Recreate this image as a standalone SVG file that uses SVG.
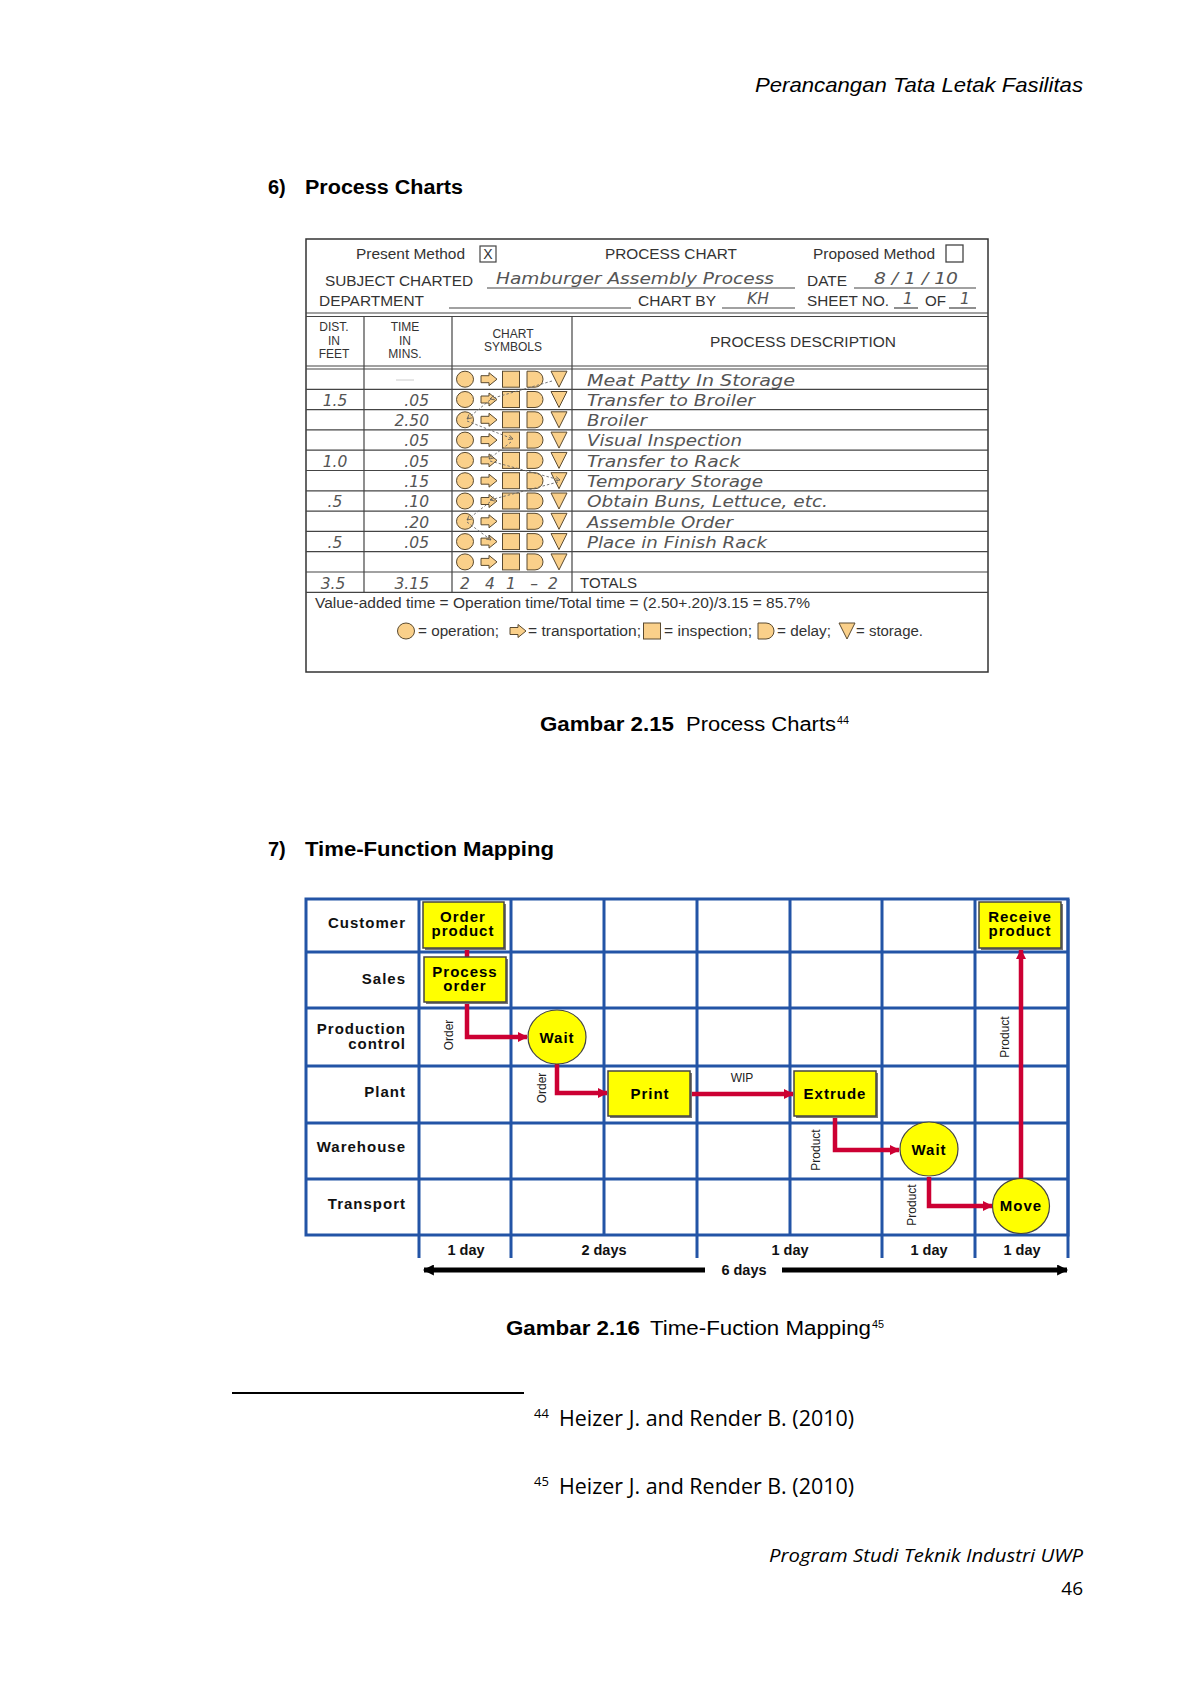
<svg xmlns="http://www.w3.org/2000/svg" xmlns:xlink="http://www.w3.org/1999/xlink" width="1200" height="1696" viewBox="0 0 1200 1696">
<defs>
<style>
.pg{font-family:"Liberation Sans",Arial,sans-serif;fill:#000}
.hd{font-family:"Liberation Sans",Arial,sans-serif;font-size:14px;fill:#333}
.hd2{font-family:"Liberation Sans",Arial,sans-serif;font-size:12px;fill:#333}
.hand{font-family:"DejaVu Sans",sans-serif;font-style:italic;font-size:15.5px;fill:#555}
.tl{stroke:#444;stroke-width:1.2;fill:none}
.sym{fill:#FAD08A;stroke:#5a4a30;stroke-width:1}
.dash{stroke:#666;stroke-width:0.9;stroke-dasharray:2.5 2;fill:none;marker-end:url(#oh)}
.grid{stroke:#2354A6;stroke-width:3;fill:none}
.lbl{font-family:"Liberation Sans",Arial,sans-serif;font-weight:bold;font-size:15px;letter-spacing:1px;fill:#111}
.nt{font-family:"Liberation Sans",Arial,sans-serif;font-weight:bold;font-size:15px;letter-spacing:1px;fill:#000;text-anchor:middle}
.box{fill:#FFFF00;stroke:#444;stroke-width:1.5}
.shd{fill:#777}
.red{stroke:#CC0033;stroke-width:4.5;fill:none}
.sm{font-family:"Liberation Sans",Arial,sans-serif;font-size:12px;fill:#222;text-anchor:middle}
.day{font-family:"Liberation Sans",Arial,sans-serif;font-weight:bold;font-size:14.5px;fill:#111;text-anchor:middle}
.cal{font-family:"Open Sans","Noto Sans",sans-serif;fill:#000}
</style>
<marker id="oh" viewBox="0 0 8 8" refX="7" refY="4" markerWidth="6" markerHeight="6" markerUnits="userSpaceOnUse" orient="auto">
<path d="M1,1 L7,4 L1,7" fill="none" stroke="#555" stroke-width="1"/>
</marker>
<marker id="ra" viewBox="0 0 10 10" refX="9" refY="5" markerWidth="11" markerHeight="10" markerUnits="userSpaceOnUse" orient="auto">
<path d="M0,0 L10,5 L0,10 Z" fill="#CC0033"/>
</marker>
<marker id="ba" viewBox="0 0 10 10" refX="9" refY="5" markerWidth="12" markerHeight="11" markerUnits="userSpaceOnUse" orient="auto">
<path d="M0,0 L10,5 L0,10 Z" fill="#000"/>
</marker>
<ellipse id="sc" class="sym" cx="0" cy="0" rx="8.5" ry="8"/>
<path id="sa" class="sym" d="M-8,-3.5 H0 V-6.5 L8,0 L0,6.5 V3.5 H-8 Z"/>
<rect id="ss" class="sym" x="-8.5" y="-8" width="17" height="16" stroke-width="1.3"/>
<path id="sd" class="sym" d="M-8,-8 H0 A8,8 0 0 1 0,8 H-8 Z"/>
<path id="st" class="sym" d="M-8,-8 H8 L0,8 Z"/>
<g id="symrow">
<use xlink:href="#sc" x="465"/>
<use xlink:href="#sa" x="489"/>
<use xlink:href="#ss" x="511"/>
<use xlink:href="#sd" x="535"/>
<use xlink:href="#st" x="559"/>
</g>
</defs>
<rect width="1200" height="1696" fill="#fff"/>

<!-- page header / titles -->
<g id="page-text">
<text class="pg" x="1083" y="92" font-size="21" font-style="italic" text-anchor="end" textLength="328" lengthAdjust="spacingAndGlyphs">Perancangan Tata Letak Fasilitas</text>
<text class="pg" x="268" y="194" font-size="20" font-weight="bold">6)</text>
<text class="pg" x="305" y="194" font-size="20" font-weight="bold" textLength="158" lengthAdjust="spacingAndGlyphs">Process Charts</text>
<text class="pg" x="540" y="731" font-size="20" font-weight="bold" textLength="134" lengthAdjust="spacingAndGlyphs">Gambar 2.15</text>
<text class="pg" x="686" y="731" font-size="20" textLength="150" lengthAdjust="spacingAndGlyphs">Process Charts</text>
<text class="pg" x="837" y="724" font-size="11" textLength="12" lengthAdjust="spacingAndGlyphs">44</text>
<text class="pg" x="268" y="856" font-size="20" font-weight="bold">7)</text>
<text class="pg" x="305" y="856" font-size="20" font-weight="bold" textLength="249" lengthAdjust="spacingAndGlyphs">Time-Function Mapping</text>
<text class="pg" x="506" y="1335" font-size="20" font-weight="bold" textLength="134" lengthAdjust="spacingAndGlyphs">Gambar 2.16</text>
<text class="pg" x="650" y="1335" font-size="20" textLength="221" lengthAdjust="spacingAndGlyphs">Time-Fuction Mapping</text>
<text class="pg" x="872" y="1328" font-size="11" textLength="12" lengthAdjust="spacingAndGlyphs">45</text>
<line x1="232" y1="1393" x2="524" y2="1393" stroke="#000" stroke-width="2"/>
<text class="cal" x="534" y="1418" font-size="13">44</text>
<text class="cal" x="559" y="1426" font-size="21" textLength="295" lengthAdjust="spacingAndGlyphs">Heizer J. and Render B. (2010)</text>
<text class="cal" x="534" y="1486" font-size="13">45</text>
<text class="cal" x="559" y="1494" font-size="21" textLength="295" lengthAdjust="spacingAndGlyphs">Heizer J. and Render B. (2010)</text>
<text class="cal" x="1083" y="1562" font-size="19" font-style="italic" text-anchor="end" textLength="314" lengthAdjust="spacingAndGlyphs">Program Studi Teknik Industri UWP</text>
<text class="cal" x="1083" y="1595" font-size="19" text-anchor="end">46</text>
</g>

<!-- PROCESS CHART -->
<g id="process-chart">
<rect x="306" y="239" width="682" height="433" fill="#fff" stroke="#333" stroke-width="1.5"/>
<text class="hd" x="356" y="259" textLength="109" lengthAdjust="spacingAndGlyphs">Present Method</text>
<rect x="480" y="246" width="16" height="16" fill="none" stroke="#444" stroke-width="1.2"/>
<text class="hd" x="488" y="259" text-anchor="middle" font-size="14">X</text>
<text class="hd" x="671" y="259" text-anchor="middle" textLength="132" lengthAdjust="spacingAndGlyphs">PROCESS CHART</text>
<text class="hd" x="813" y="259" textLength="122" lengthAdjust="spacingAndGlyphs">Proposed Method</text>
<rect x="946" y="245" width="17" height="17" fill="none" stroke="#444" stroke-width="1.3"/>
<text class="hd" x="325" y="286" textLength="148" lengthAdjust="spacingAndGlyphs">SUBJECT CHARTED</text>
<line class="tl" x1="487" y1="288" x2="795" y2="288"/>
<text class="hand" x="496" y="284" textLength="278" lengthAdjust="spacingAndGlyphs">Hamburger Assembly Process</text>
<text class="hd" x="807" y="286" textLength="40" lengthAdjust="spacingAndGlyphs">DATE</text>
<line class="tl" x1="854" y1="288" x2="976" y2="288"/>
<text class="hand" x="874" y="284" textLength="84" lengthAdjust="spacingAndGlyphs">8 / 1 / 10</text>
<text class="hd" x="319" y="306" textLength="105" lengthAdjust="spacingAndGlyphs">DEPARTMENT</text>
<line class="tl" x1="449" y1="308" x2="631" y2="308"/>
<text class="hd" x="638" y="306" textLength="78" lengthAdjust="spacingAndGlyphs">CHART BY</text>
<line class="tl" x1="722" y1="308" x2="795" y2="308"/>
<text class="hand" x="758" y="304" text-anchor="middle">KH</text>
<text class="hd" x="807" y="306" textLength="82" lengthAdjust="spacingAndGlyphs">SHEET NO.</text>
<line class="tl" x1="894" y1="308" x2="918" y2="308"/>
<text class="hand" x="908" y="304" text-anchor="middle">1</text>
<text class="hd" x="925" y="306" textLength="21" lengthAdjust="spacingAndGlyphs">OF</text>
<line class="tl" x1="949" y1="308" x2="976" y2="308"/>
<text class="hand" x="965" y="304" text-anchor="middle">1</text>
<line class="tl" x1="306" y1="313" x2="988" y2="313"/>
<line class="tl" x1="306" y1="316.5" x2="988" y2="316.5"/>
<text class="hd2" x="334" y="331" text-anchor="middle">DIST.</text>
<text class="hd2" x="334" y="345" text-anchor="middle">IN</text>
<text class="hd2" x="334" y="358" text-anchor="middle">FEET</text>
<text class="hd2" x="405" y="331" text-anchor="middle">TIME</text>
<text class="hd2" x="405" y="345" text-anchor="middle">IN</text>
<text class="hd2" x="405" y="358" text-anchor="middle">MINS.</text>
<text class="hd2" x="513" y="338" text-anchor="middle">CHART</text>
<text class="hd2" x="513" y="351" text-anchor="middle">SYMBOLS</text>
<text class="hd" x="803" y="347" text-anchor="middle" textLength="186" lengthAdjust="spacingAndGlyphs">PROCESS DESCRIPTION</text>
<line class="tl" x1="306" y1="366" x2="988" y2="366"/>
<line class="tl" x1="306" y1="369" x2="988" y2="369"/>
<line class="tl" x1="306" y1="389.3" x2="988" y2="389.3"/>
<line class="tl" x1="306" y1="409.6" x2="988" y2="409.6"/>
<line class="tl" x1="306" y1="429.9" x2="988" y2="429.9"/>
<line class="tl" x1="306" y1="450.2" x2="988" y2="450.2"/>
<line class="tl" x1="306" y1="470.5" x2="988" y2="470.5"/>
<line class="tl" x1="306" y1="490.8" x2="988" y2="490.8"/>
<line class="tl" x1="306" y1="511.1" x2="988" y2="511.1"/>
<line class="tl" x1="306" y1="531.4" x2="988" y2="531.4"/>
<line class="tl" x1="306" y1="551.7" x2="988" y2="551.7"/>
<line class="tl" x1="306" y1="572" x2="988" y2="572"/>
<line class="tl" x1="306" y1="592.3" x2="988" y2="592.3"/>
<line class="tl" x1="364" y1="316.5" x2="364" y2="592.3"/>
<line class="tl" x1="452" y1="316.5" x2="452" y2="592.3"/>
<line class="tl" x1="572" y1="316.5" x2="572" y2="592.3"/>
<!-- symbols -->
<use xlink:href="#symrow" y="379.2"/>
<use xlink:href="#symrow" y="399.5"/>
<use xlink:href="#symrow" y="419.8"/>
<use xlink:href="#symrow" y="440.1"/>
<use xlink:href="#symrow" y="460.4"/>
<use xlink:href="#symrow" y="480.7"/>
<use xlink:href="#symrow" y="501"/>
<use xlink:href="#symrow" y="521.3"/>
<use xlink:href="#symrow" y="541.6"/>
<use xlink:href="#symrow" y="561.9"/>
<!-- dashed flow -->
<path class="dash" d="M552,381 L490,399"/>
<path class="dash" d="M490,400 L467,419"/>
<path class="dash" d="M467,421 L513,439"/>
<path class="dash" d="M511,442 L489,459"/>
<path class="dash" d="M490,461 L560,480"/>
<path class="dash" d="M558,482 L490,500"/>
<path class="dash" d="M490,502 L467,520"/>
<path class="dash" d="M467,522 L491,540"/>
<!-- descriptions -->
<text class="hand" x="587" y="385.5" textLength="208" lengthAdjust="spacingAndGlyphs">Meat Patty In Storage</text>
<text class="hand" x="587" y="405.8" textLength="168" lengthAdjust="spacingAndGlyphs">Transfer to Broiler</text>
<text class="hand" x="587" y="426.1" textLength="60" lengthAdjust="spacingAndGlyphs">Broiler</text>
<text class="hand" x="587" y="446.4" textLength="155" lengthAdjust="spacingAndGlyphs">Visual Inspection</text>
<text class="hand" x="587" y="466.7" textLength="153" lengthAdjust="spacingAndGlyphs">Transfer to Rack</text>
<text class="hand" x="587" y="487" textLength="176" lengthAdjust="spacingAndGlyphs">Temporary Storage</text>
<text class="hand" x="587" y="507.3" textLength="241" lengthAdjust="spacingAndGlyphs">Obtain Buns, Lettuce, etc.</text>
<text class="hand" x="587" y="527.6" textLength="146" lengthAdjust="spacingAndGlyphs">Assemble Order</text>
<text class="hand" x="587" y="547.9" textLength="180" lengthAdjust="spacingAndGlyphs">Place in Finish Rack</text>
<!-- distances -->
<text class="hand" x="335" y="405.8" text-anchor="middle">1.5</text>
<text class="hand" x="335" y="466.7" text-anchor="middle">1.0</text>
<text class="hand" x="335" y="507.3" text-anchor="middle">.5</text>
<text class="hand" x="335" y="547.9" text-anchor="middle">.5</text>
<text class="hand" x="333" y="588.5" text-anchor="middle">3.5</text>
<!-- times -->
<line x1="396" y1="380" x2="414" y2="380" stroke="#ccc" stroke-width="1"/>
<text class="hand" x="429" y="405.8" text-anchor="end">.05</text>
<text class="hand" x="429" y="426.1" text-anchor="end">2.50</text>
<text class="hand" x="429" y="446.4" text-anchor="end">.05</text>
<text class="hand" x="429" y="466.7" text-anchor="end">.05</text>
<text class="hand" x="429" y="487" text-anchor="end">.15</text>
<text class="hand" x="429" y="507.3" text-anchor="end">.10</text>
<text class="hand" x="429" y="527.6" text-anchor="end">.20</text>
<text class="hand" x="429" y="547.9" text-anchor="end">.05</text>
<text class="hand" x="429" y="588.5" text-anchor="end">3.15</text>
<!-- totals -->
<text class="hand" x="465" y="588.5" text-anchor="middle">2</text>
<text class="hand" x="490" y="588.5" text-anchor="middle">4</text>
<text class="hand" x="511" y="588.5" text-anchor="middle">1</text>
<text class="hand" x="534" y="588.5" text-anchor="middle">–</text>
<text class="hand" x="553" y="588.5" text-anchor="middle">2</text>
<text class="hd" x="580" y="588" textLength="57" lengthAdjust="spacingAndGlyphs">TOTALS</text>
<text class="hd" x="315" y="608" textLength="495" lengthAdjust="spacingAndGlyphs">Value-added time = Operation time/Total time = (2.50+.20)/3.15 = 85.7%</text>
<!-- legend -->
<use xlink:href="#sc" x="406" y="631"/>
<text class="hd" x="418" y="636" textLength="81" lengthAdjust="spacingAndGlyphs">= operation;</text>
<use xlink:href="#sa" x="518" y="631"/>
<text class="hd" x="528" y="636" textLength="113" lengthAdjust="spacingAndGlyphs">= transportation;</text>
<use xlink:href="#ss" x="652" y="631"/>
<text class="hd" x="664" y="636" textLength="88" lengthAdjust="spacingAndGlyphs">= inspection;</text>
<use xlink:href="#sd" x="766" y="631"/>
<text class="hd" x="777" y="636" textLength="54" lengthAdjust="spacingAndGlyphs">= delay;</text>
<use xlink:href="#st" x="847" y="631"/>
<text class="hd" x="856" y="636" textLength="67" lengthAdjust="spacingAndGlyphs">= storage.</text>
</g>

<!-- TIME-FUNCTION MAPPING -->
<g id="tfm-grid">
<rect class="grid" x="306" y="899" width="762" height="336"/>
<line class="grid" x1="306" y1="952" x2="1068" y2="952"/>
<line class="grid" x1="306" y1="1008" x2="1068" y2="1008"/>
<line class="grid" x1="306" y1="1066" x2="1068" y2="1066"/>
<line class="grid" x1="306" y1="1123" x2="1068" y2="1123"/>
<line class="grid" x1="306" y1="1179" x2="1068" y2="1179"/>
<line class="grid" x1="419" y1="899" x2="419" y2="1258"/>
<line class="grid" x1="511" y1="899" x2="511" y2="1258"/>
<line class="grid" x1="604" y1="899" x2="604" y2="1235"/>
<line class="grid" x1="697" y1="899" x2="697" y2="1258"/>
<line class="grid" x1="790" y1="899" x2="790" y2="1235"/>
<line class="grid" x1="882" y1="899" x2="882" y2="1258"/>
<line class="grid" x1="975" y1="899" x2="975" y2="1258"/>
<line class="grid" x1="1068" y1="899" x2="1068" y2="1258"/>
<text class="lbl" x="406" y="928" text-anchor="end">Customer</text>
<text class="lbl" x="406" y="984" text-anchor="end">Sales</text>
<text class="lbl" x="406" y="1034" text-anchor="end">Production</text>
<text class="lbl" x="406" y="1049" text-anchor="end">control</text>
<text class="lbl" x="406" y="1097" text-anchor="end">Plant</text>
<text class="lbl" x="406" y="1152" text-anchor="end">Warehouse</text>
<text class="lbl" x="406" y="1209" text-anchor="end">Transport</text>
<text class="day" x="466" y="1255">1 day</text>
<text class="day" x="604" y="1255">2 days</text>
<text class="day" x="790" y="1255">1 day</text>
<text class="day" x="929" y="1255">1 day</text>
<text class="day" x="1022" y="1255">1 day</text>
<line x1="705" y1="1270" x2="424" y2="1270" stroke="#000" stroke-width="5" marker-end="url(#ba)"/>
<line x1="782" y1="1270" x2="1067" y2="1270" stroke="#000" stroke-width="5" marker-end="url(#ba)"/>
<text class="day" x="744" y="1275">6 days</text>
</g>

<g id="connectors">
<path class="red" d="M467,948 V957"/>
<path class="red" d="M467,1002 V1037 H527" marker-end="url(#ra)"/>
<path class="red" d="M557,1064 V1093 H607" marker-end="url(#ra)"/>
<path class="red" d="M692,1094 H793" marker-end="url(#ra)"/>
<path class="red" d="M835,1116 V1150 H899" marker-end="url(#ra)"/>
<path class="red" d="M929,1177 V1206 H992" marker-end="url(#ra)"/>
<path class="red" d="M1021,1178 V950" marker-end="url(#ra)"/>
<text class="sm" transform="translate(449,1035) rotate(-90)" dy="4">Order</text>
<text class="sm" transform="translate(542,1088) rotate(-90)" dy="4">Order</text>
<text class="sm" x="742" y="1082">WIP</text>
<text class="sm" transform="translate(816,1150) rotate(-90)" dy="4">Product</text>
<text class="sm" transform="translate(912,1205) rotate(-90)" dy="4">Product</text>
<text class="sm" transform="translate(1005,1037) rotate(-90)" dy="4">Product</text>
</g>

<g id="node-order-product">
<rect class="shd" x="425" y="904" width="81" height="46"/>
<rect class="box" x="423" y="902" width="81" height="46"/>
<text class="nt" x="463" y="922">Order</text>
<text class="nt" x="463" y="936">product</text>
</g>
<g id="node-process-order">
<rect class="shd" x="426" y="959" width="82" height="45"/>
<rect class="box" x="424" y="957" width="82" height="45"/>
<text class="nt" x="465" y="977">Process</text>
<text class="nt" x="465" y="991">order</text>
</g>
<g id="node-wait-1">
<ellipse cx="557" cy="1037" rx="29" ry="27" fill="#FFFF00" stroke="#444" stroke-width="1.2"/>
<text class="nt" x="557" y="1043">Wait</text>
</g>
<g id="node-print">
<rect class="shd" x="610" y="1073" width="82" height="45"/>
<rect class="box" x="608" y="1071" width="82" height="45"/>
<text class="nt" x="650" y="1099">Print</text>
</g>
<g id="node-extrude">
<rect class="shd" x="796" y="1073" width="82" height="45"/>
<rect class="box" x="794" y="1071" width="82" height="45"/>
<text class="nt" x="835" y="1099">Extrude</text>
</g>
<g id="node-wait-2">
<ellipse cx="929" cy="1149" rx="29" ry="27" fill="#FFFF00" stroke="#444" stroke-width="1.2"/>
<text class="nt" x="929" y="1155">Wait</text>
</g>
<g id="node-move">
<ellipse cx="1021" cy="1206" rx="28.5" ry="27.5" fill="#FFFF00" stroke="#444" stroke-width="1.2"/>
<text class="nt" x="1021" y="1211">Move</text>
</g>
<g id="node-receive-product">
<rect class="shd" x="981" y="904" width="82" height="46"/>
<rect class="box" x="979" y="902" width="82" height="46"/>
<text class="nt" x="1020" y="922">Receive</text>
<text class="nt" x="1020" y="936">product</text>
</g>
</svg>
